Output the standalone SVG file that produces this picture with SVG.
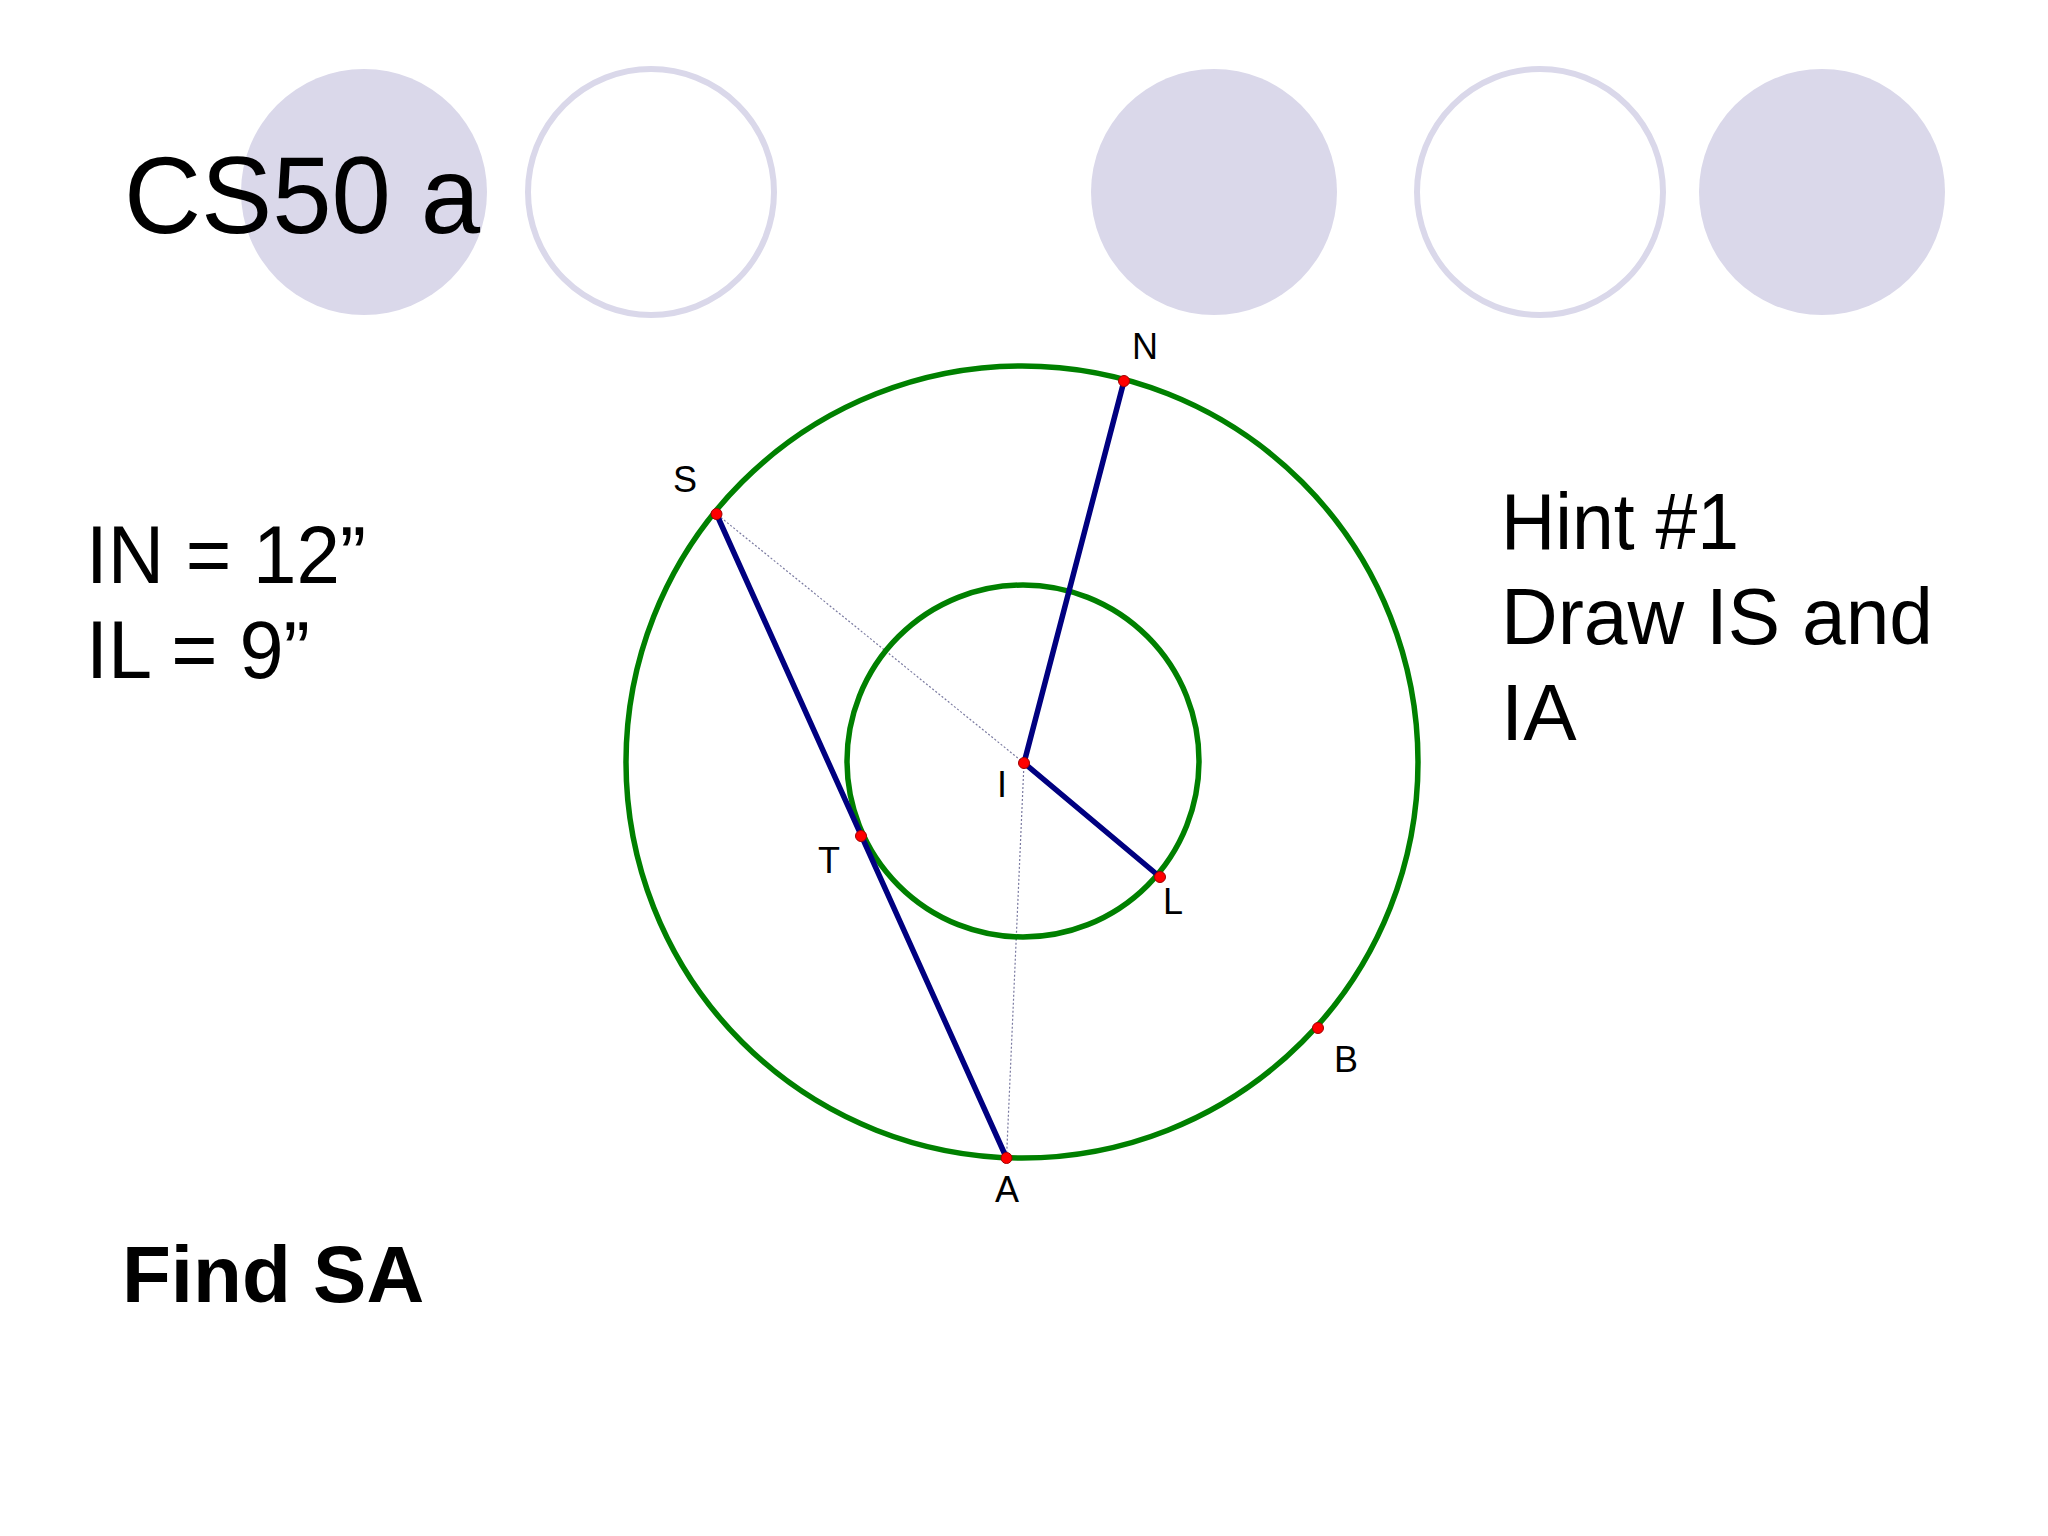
<svg xmlns="http://www.w3.org/2000/svg" width="2048" height="1536" viewBox="0 0 2048 1536">
<style>
.deco-fill{fill:#dad8ea;stroke:none}
.deco-ring{fill:#ffffff;stroke:#dad8ea;stroke-width:6}
.circ{fill:none;stroke:#008000;stroke-width:5.5}
.seg{stroke:#000080;stroke-width:5.5;stroke-linecap:round}
.dot{stroke:#7a7aa0;stroke-width:1.2;stroke-dasharray:2 2}
.pt{fill:#ff0000;stroke:#a00000;stroke-width:1}
.lbl{font-family:"Liberation Sans",Arial,sans-serif;font-size:36px;fill:#000}
.big{font-family:"Liberation Sans",Arial,sans-serif;fill:#000}
</style>
<rect width="2048" height="1536" fill="#ffffff"/>
<g id="decor">
<circle class="deco-fill" cx="364" cy="192" r="123"/>
<circle class="deco-ring" cx="651" cy="192" r="123"/>
<circle class="deco-fill" cx="1214" cy="192" r="123"/>
<circle class="deco-ring" cx="1540" cy="192" r="123"/>
<circle class="deco-fill" cx="1822" cy="192" r="123"/>
</g>
<g id="title"><text class="big" x="124" y="233" font-size="110" textLength="356" lengthAdjust="spacingAndGlyphs">CS50 a</text></g>
<g id="given">
<text class="big" x="86" y="583" font-size="81" textLength="280" lengthAdjust="spacingAndGlyphs">IN = 12”</text>
<text class="big" x="86" y="678" font-size="81" textLength="224" lengthAdjust="spacingAndGlyphs">IL = 9”</text>
</g>
<g id="hint">
<text class="big" x="1501" y="549" font-size="80" textLength="238" lengthAdjust="spacingAndGlyphs">Hint #1</text>
<text class="big" x="1501" y="644" font-size="80" textLength="432" lengthAdjust="spacingAndGlyphs">Draw IS and</text>
<text class="big" x="1501" y="740" font-size="80">IA</text>
</g>
<g id="find"><text class="big" x="122" y="1302" font-size="80" font-weight="bold">Find SA</text></g>
<g id="connectors">
<line class="dot" x1="1024" y1="763" x2="716.5" y2="514"/>
<line class="dot" x1="1024" y1="763" x2="1006.5" y2="1158"/>
</g>
<g id="outer-circle"><circle class="circ" cx="1022" cy="762" r="396"/></g>
<g id="inner-circle"><circle class="circ" cx="1023" cy="761" r="176"/></g>
<g id="segments">
<line class="seg" x1="716.5" y1="514" x2="1006.5" y2="1158"/>
<line class="seg" x1="1024" y1="763" x2="1124" y2="381"/>
<line class="seg" x1="1024" y1="763" x2="1160" y2="877"/>
</g>
<g id="node-S"><circle class="pt" cx="716.5" cy="514" r="5.5"/><text class="lbl" x="673" y="492">S</text></g>
<g id="node-N"><circle class="pt" cx="1124" cy="381" r="5.5"/><text class="lbl" x="1132" y="359">N</text></g>
<g id="node-I"><circle class="pt" cx="1024" cy="763" r="5.5"/><text class="lbl" x="997" y="797">I</text></g>
<g id="node-T"><circle class="pt" cx="861" cy="836" r="5.5"/><text class="lbl" x="818" y="873">T</text></g>
<g id="node-L"><circle class="pt" cx="1160" cy="877" r="5.5"/><text class="lbl" x="1163" y="914">L</text></g>
<g id="node-B"><circle class="pt" cx="1318" cy="1028" r="5.5"/><text class="lbl" x="1334" y="1072">B</text></g>
<g id="node-A"><circle class="pt" cx="1006.5" cy="1158" r="5.5"/><text class="lbl" x="995" y="1202">A</text></g>
</svg>
